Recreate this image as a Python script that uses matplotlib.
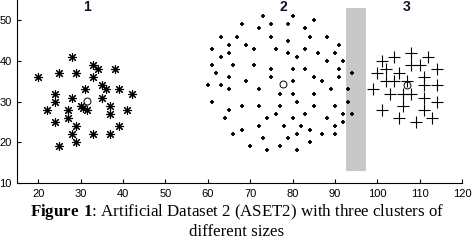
import matplotlib
matplotlib.use("Agg")
import matplotlib.pyplot as plt
import matplotlib.patches as mpatches

plt.rcParams["mathtext.fontset"] = "custom"
plt.rcParams["mathtext.rm"] = "Liberation Serif"
plt.rcParams["mathtext.bf"] = "Liberation Serif:bold"

# cluster 1 (asterisks)
c1_x = [20, 28, 25, 29, 33, 34, 38, 33, 35, 36, 31, 39, 42, 24, 24, 28, 35, 22, 27, 30, 30.6, 31.4,
        37, 37, 41, 27, 24, 29, 39, 28, 33, 37, 29, 25]
c1_y = [36, 41, 37, 37, 39, 38, 38, 36, 34, 33, 33, 33, 32, 32, 30, 31, 31, 28, 28, 29, 28.4, 28,
        29, 27, 28, 26, 25, 24, 24, 22, 22, 22, 20, 19]

# cluster 2 (small dots)
c2_x = [73, 80, 68, 75, 79, 85, 72, 83, 63, 67, 75, 84, 88, 79, 65, 69, 61, 71, 76, 83, 91,
        65, 79, 86, 90, 63, 81, 88, 92, 61, 66, 71, 62, 75, 80, 83, 91, 94, 65, 75, 80, 85,
        91, 69, 87, 60, 63, 65, 72, 89, 93, 77, 80, 85, 61, 81, 93, 68, 72, 77, 85, 90, 65,
        76, 83, 92, 94, 64, 74, 80, 88, 92, 72, 78, 82, 90, 68, 84, 66, 81, 87, 90, 73, 79,
        84, 70, 77, 74, 81]
c2_y = [51, 51, 49, 49, 49, 50, 48, 48, 46, 46, 46, 46, 46, 45, 44, 44, 43, 43, 43, 43, 44,
        42, 42, 42, 42, 41, 41, 40, 40, 39, 39, 39, 37, 38, 38, 38, 38, 37, 36, 36, 35, 36,
        36, 35, 35, 34, 34, 33, 33, 33, 33, 32, 32, 32, 30, 30, 30, 29, 29, 29, 29, 29, 28,
        27, 27, 27, 27, 26, 26, 26, 26, 25, 24, 24, 24, 24, 23, 23, 22, 22, 22, 22, 21, 21,
        20, 19, 19, 18, 18]

# cluster 3 (plus signs)
c3_x = [108, 104, 112, 101, 108, 110, 102, 114, 100, 105, 111, 102, 104, 107, 111, 114, 99,
        103, 106, 108, 111, 114, 106, 101, 111, 105, 113, 109]
c3_y = [42, 41, 41, 40, 39, 39, 38, 38, 37, 37, 36, 35, 35, 35, 34, 34, 33,
        32, 32, 32, 31, 30, 29, 28, 28, 26, 26, 25]

# cluster centres
cent_x = [31.4, 77.8, 106.9]
cent_y = [30.2, 34.3, 34.2]
labels = ["1", "2", "3"]

fig = plt.figure(figsize=(4.74, 2.52), dpi=100)
ax = fig.add_axes([0.036, 0.274, 0.939, 0.726])

ax.add_patch(mpatches.Rectangle((92.5, 13), 4.9, 40, color="#c8c8c8", lw=0, zorder=0))

ax.plot(c1_x, c1_y, ls="none", marker=(8, 2, 0), color="black", ms=6.5, mew=0.8)
ax.plot(c2_x, c2_y, "+", color="black", ms=3.5, mew=1.3)
ax.plot(c3_x, c3_y, "+", color="black", ms=8, mew=0.8)
ax.plot(cent_x, cent_y, "o", color="black", ms=5, mfc="none", mew=0.7)

for x, lab in zip(cent_x, labels):
    ax.text(x, 51.5, lab, ha="center", va="bottom", fontsize=10, fontweight="bold",
            family="Liberation Sans", color="#101020")

ax.set_xlim(15, 120)
ax.set_ylim(10, 55)
ax.set_xticks(range(20, 121, 10))
ax.set_yticks([10, 20, 30, 40, 50])
ax.spines["top"].set_visible(False)
ax.spines["right"].set_visible(False)
ax.tick_params(direction="in", length=3, labelsize=8, pad=4)
for t in ax.get_xticklabels() + ax.get_yticklabels():
    t.set_family("Liberation Sans")

fig.text(0.5, 1 - 212 / 252, r"$\mathbf{Figure\ 1}$: Artificial Dataset 2 (ASET2) with three clusters of",
         ha="center", va="center", fontsize=12.2, family="Liberation Serif")
fig.text(0.5, 1 - 232 / 252, "different sizes", ha="center", va="center", fontsize=12.2,
         family="Liberation Serif")

fig.savefig("out.png", dpi=100)
